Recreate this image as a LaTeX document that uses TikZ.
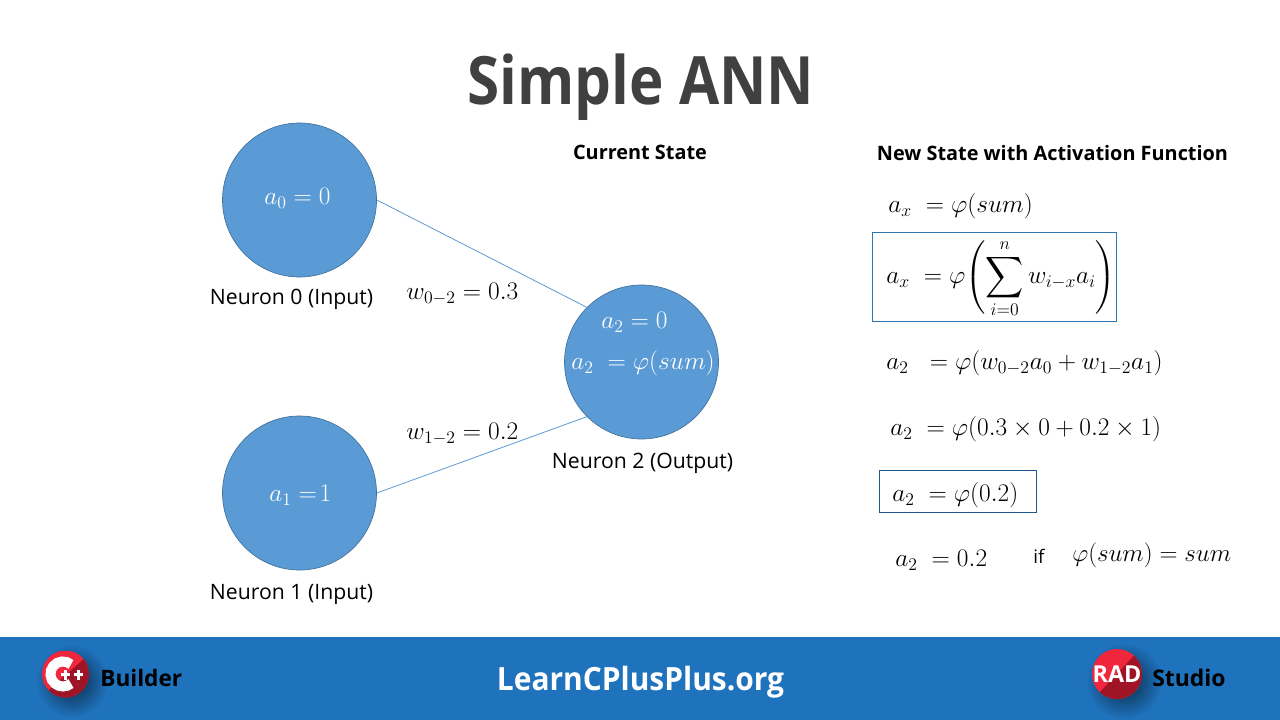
\RequirePackage{fix-cm}
\documentclass[tikz,border=0pt]{standalone}
\usepackage{amsmath}
\usepackage{graphicx}
\usepackage{fontspec}
\setmainfont{Open Sans}
\newfontfamily\titlefont[FakeStretch=0.875]{Open Sans}
\newfontfamily\sitefont[FakeStretch=0.935]{Open Sans}
\usetikzlibrary{fadings,calc}
\definecolor{nfill}{HTML}{5B9BD5}
\definecolor{nedge}{HTML}{41719C}
\definecolor{band}{HTML}{1F72BC}
\definecolor{boxblue}{HTML}{2E75B6}
\definecolor{boxdark}{HTML}{1F5A8E}
\definecolor{titlegray}{HTML}{404040}
\definecolor{logored}{HTML}{F0263C}
\definecolor{logodark}{HTML}{A01526}
\tikzfading[name=softshadow,inner color=transparent!35,outer color=transparent!100]
\newcommand{\bigsum}{\mathop{\vcenter{\hbox{\scalebox{1.15}[1.25]{$\displaystyle\sum$}}}}\limits}
\newcommand{\lparen}{\mathopen{\vcenter{\hbox{\scalebox{1}[0.88]{$\Bigg($}}}}}
\newcommand{\rparen}{\mathclose{\vcenter{\hbox{\scalebox{1}[0.88]{$\Bigg)$}}}}}
\tikzset{
  x=0.75pt,y=-0.75pt,
  neuron/.style={circle,draw=nedge,line width=0.5pt,fill=nfill,minimum size=115.5pt,inner sep=0pt},
  link/.style={draw=nfill,line width=0.6pt},
  lbl/.style={inner sep=0pt,font=\fontsize{15.9}{18}\selectfont},
  head/.style={inner sep=0pt,font=\fontsize{14.9}{18}\selectfont\bfseries},
  eq/.style={inner sep=0pt,anchor=west,font=\fontsize{19}{23}\selectfont},
  weq/.style={inner sep=0pt,anchor=west,text=white,font=\fontsize{19}{23}\selectfont},
  eqbox/.style={inner sep=0pt,draw=boxblue,line width=0.75pt},
}
\begin{document}
\begin{tikzpicture}
\useasboundingbox (0,0) rectangle (1280,720);
\fill[white] (0,0) rectangle (1280,720);
\fill[band] (0,637) rectangle (1280,720);

\node[inner sep=0pt,text=titlegray,font=\fontsize{50}{60}\selectfont\titlefont\bfseries] (title) at (641,87) {Simple ANN};

\node[neuron] (n0) at (299.5,200) {};
\node[neuron] (n1) at (299.5,493) {};
\node[neuron] (n2) at (641.5,362) {};
\draw[link] (n0.east) -- (n2.135);
\draw[link] (n1.east) -- (n2.225);

\node[weq] (a0) at (264,198) {$a_0=0$};
\node[weq] (a1) at (269,495) {$a_1=\!1$};
\node[weq] (a2) at (601,322) {$a_2=0$};
\node[weq] (a2s) at (571,363) {$a_2\;=\varphi(sum)$};

\node[lbl] (l0) at (291.5,299) {Neuron 0 (Input)};
\node[lbl] (l1) at (291.5,594) {Neuron 1 (Input)};
\node[lbl] (l2) at (642.5,463) {Neuron 2 (Output)};

\node[eq] (w0) at (406,294) {$w_{0-2}=0.3$};
\node[eq] (w1) at (406,434) {$w_{1-2}=0.2$};

\node[head] (cs) at (640,152) {Current State};
\node[head] (ns) at (1052.5,153) {New State with Activation Function};

\node[eq] (e1) at (888,206) {$a_x\;=\varphi(sum)$};
\node[eqbox,minimum width=183pt,minimum height=66pt] (b1) at (994.5,277) {};
\node[eq] (e2) at (886,279) {$a_x\;=\varphi\lparen\bigsum_{i=0}^{n}w_{i-x}a_i\rparen$};
\node[eq] (e3) at (886,363) {$a_2\;\;=\varphi(w_{0-2}a_0+w_{1-2}a_1)$};
\node[eq] (e4) at (890,429) {$a_2\;=\varphi(0.3\times0+0.2\times1)$};
\node[eqbox,draw=boxdark,minimum width=117.75pt,minimum height=31.5pt] (b2) at (958,491.5) {};
\node[eq] (e5) at (892,495) {$a_2\;=\varphi(0.2)$};
\node[eq] (e6) at (895,560) {$a_2\;=0.2$};
\node[lbl,font=\fontsize{14}{17}\selectfont] (ifw) at (1039,556) {if};
\node[eq,font=\fontsize{18.7}{23}\selectfont] (e7) at (1072,555) {$\varphi(sum)=sum$};

% C++ Builder logo
\fill[black,path fading=softshadow] (72,681) circle (36);
\begin{scope}
\clip (65.5,674) circle (23.5);
\fill[logored] (42,651) rectangle (89,698);
\fill[logodark] (89,654.4) -- (42,696) -- (42,700) -- (89,700) -- cycle;
\end{scope}
\draw[white,line width=7.5pt] (71,664.4) arc (-50:-310:12.5);
\fill[white] (60.5,673) rectangle (70,676);
\fill[white] (64,669.5) rectangle (66.8,679.5);
\fill[white] (73.5,673) rectangle (83,676);
\fill[white] (77,669.5) rectangle (79.8,679.5);
\node[inner sep=0pt,anchor=west,text=black,font=\fontsize{17}{20}\selectfont\bfseries] (bld) at (100,678) {Builder};

% RAD Studio logo
\fill[black,path fading=softshadow] (1124,681) circle (38);
\begin{scope}
\clip (1117,674) circle (25);
\fill[logored] (1090,647) rectangle (1144,701);
\fill[logodark] (1144,645) -- (1085,708) -- (1144,708) -- cycle;
\end{scope}
\node[inner sep=0pt,text=white,font=\fontsize{17.5}{22}\selectfont\bfseries] (rad) at (1117,674) {RAD};
\node[inner sep=0pt,anchor=west,text=black,font=\fontsize{17.2}{20}\selectfont\bfseries] (std) at (1152,678) {Studio};

\node[inner sep=0pt,text=white,font=\fontsize{24}{29}\selectfont\sitefont\bfseries] (site) at (640.5,682) {LearnCPlusPlus.org};
\end{tikzpicture}
\end{document}
